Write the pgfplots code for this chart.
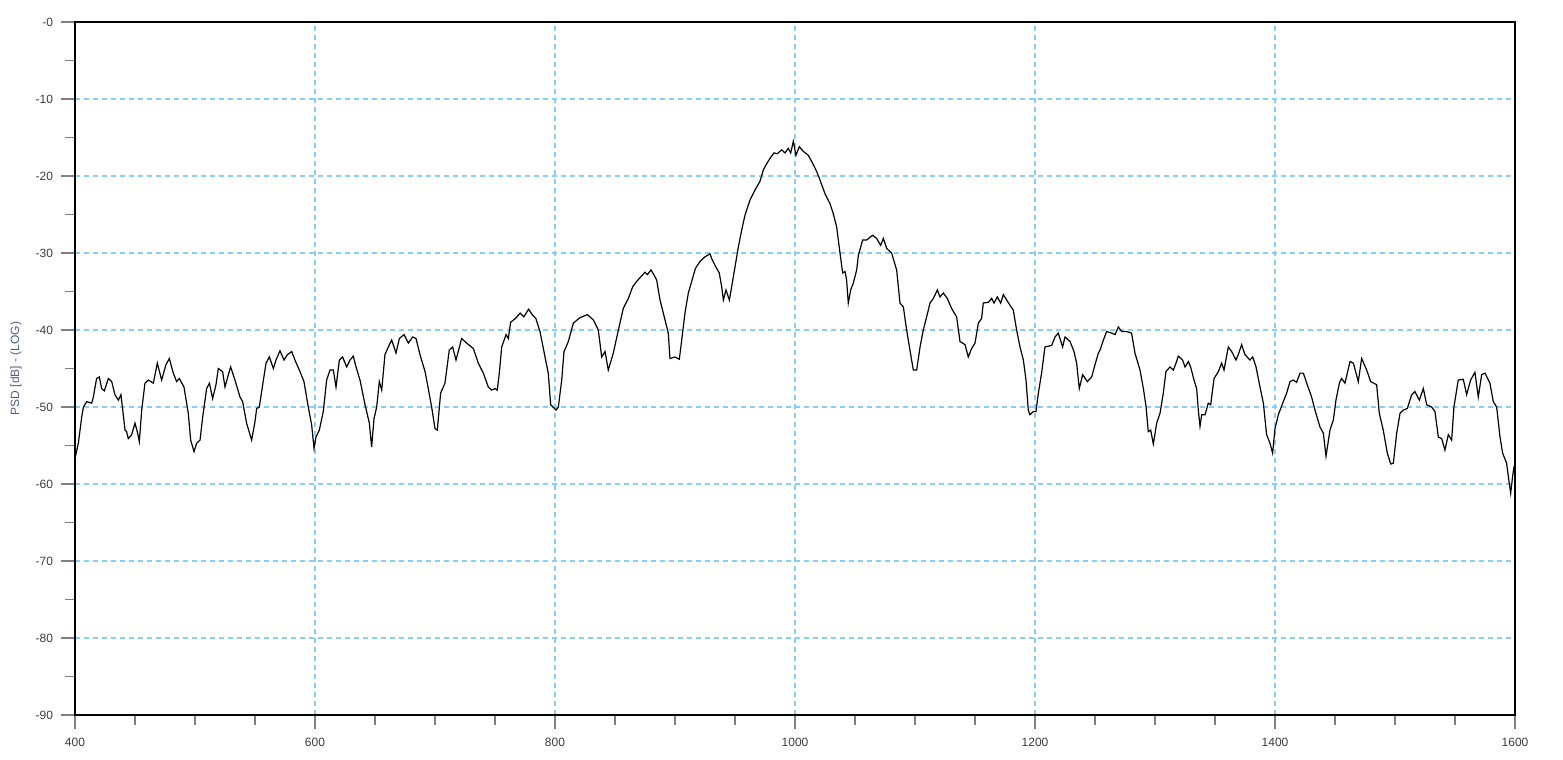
\documentclass[border=0pt]{standalone}
\usepackage{pgfplots}
\pgfplotsset{compat=1.18}
\usepackage{fontspec}
\setmainfont{Liberation Sans}
\definecolor{gridblue}{RGB}{135,206,250}
\definecolor{ticklab}{RGB}{60,60,60}
\definecolor{ylab}{RGB}{80,95,130}
\begin{document}
\begin{tikzpicture}
\begin{axis}[
  at={(0,0)}, anchor=south west,
  scale only axis, width=720bp, height=346.5bp,
  xmin=400, xmax=1600, ymin=-90, ymax=0,
  xtick={400,600,...,1600}, minor x tick num=3,
  ytick={-90,-80,...,0}, minor y tick num=1,
  yticklabels={-90,-80,-70,-60,-50,-40,-30,-20,-10,-0},
  tick pos=left, tick align=outside,
  major tick length=7bp, minor tick length=5bp,
  tick style={line width=0.8pt},
  axis line style={black, line width=0.8pt},
  xmajorgrids, ymajorgrids,
  major grid style={color=gridblue, dash pattern=on 2.5bp off 2bp, line width=0.6pt},
  tick label style={font=\fontsize{6bp}{7bp}\selectfont, text=ticklab},
  /pgf/number format/assume math mode=true,
  /pgf/number format/set thousands separator={},
  xticklabel style={yshift=-1bp},
  yticklabel style={xshift=-0.5bp},
  ylabel={PSD [dB] - (LOG)},
  every axis y label/.style={at={(axis description cs:-0.041,0.5)}, rotate=90, anchor=center, font=\fontsize{6bp}{7bp}\selectfont, text=ylab},
]
\addplot[black, line width=0.6pt] table {
x y
400 -56.7
402.8 -54.7
405.6 -51.3
407 -50
409.7 -49.3
413.9 -49.5
415.3 -48.7
418 -46.3
420.3 -46.1
422.2 -47.6
424.4 -47.9
427.8 -46.3
430.6 -46.7
433.3 -48.4
436.1 -49.1
438.3 -48.4
441.7 -53
443 -53.2
444.4 -54.1
447.2 -53.6
450 -52.1
451.9 -53.2
453.6 -54.5
455.6 -50.4
458.3 -46.9
461.1 -46.5
465.3 -46.9
468.6 -44.3
472.2 -46.5
475.8 -44.5
478.6 -43.7
481.9 -45.6
484.7 -46.7
486.9 -46.3
490.8 -47.4
494.4 -50.8
496.4 -54.3
499.2 -55.8
501.4 -54.7
504.2 -54.3
506.4 -51.3
509.7 -47.6
512 -46.9
514.7 -48.9
517.5 -47.1
519.4 -45
523 -45.4
525 -47.4
527.8 -45.8
529.7 -44.8
533.3 -46.5
537.5 -48.7
539.7 -49.3
543 -52.1
547.2 -54.3
550 -51.9
551.4 -50.2
553.6 -50
557 -46.5
559.2 -44.3
562 -43.5
565.3 -45
567.5 -43.9
570.8 -42.7
574.2 -43.9
577 -43.2
580.6 -42.8
583.3 -43.9
587.5 -45.4
590.8 -46.7
594.4 -50
597.2 -52.3
599.2 -55.4
600.8 -53.9
603.6 -53
606.9 -50.6
609.7 -46.5
612.5 -45.2
615.3 -45.2
617.5 -47.4
620.3 -43.9
623 -43.5
626.4 -44.8
629.2 -43.9
631.9 -43.4
634.2 -44.8
637.5 -46.5
641.7 -49.7
645.3 -52.1
647.2 -55.2
649.2 -51.5
651.4 -50
653.6 -46.7
655.6 -47.8
658.3 -43.2
661.1 -42.2
663.9 -41.3
667.5 -43
670.3 -41.1
674.2 -40.6
677.8 -41.7
681.4 -40.9
684.2 -41.1
687.5 -43.2
691.7 -45.4
694.4 -47.6
697.2 -50
700 -52.8
701.9 -53
704.7 -48.2
708.3 -46.9
711.9 -42.6
714.7 -42.2
717.5 -43.9
722.2 -41.1
726.4 -41.7
731.9 -42.4
736.1 -44.3
740.3 -45.6
744.4 -47.4
747.2 -47.8
750 -47.6
751.9 -47.8
753.6 -45.6
755.6 -42.2
759.2 -40.6
761.1 -41.1
763 -39
767 -38.5
771 -37.8
774 -38.3
778 -37.3
781 -38
784 -38.5
787.5 -40.2
791.7 -43.5
794.4 -45.6
796.4 -49.7
800.8 -50.4
802.8 -50
805.6 -46.5
807.5 -42.8
811.1 -41.5
815.3 -39.1
820.8 -38.4
827 -38
832 -38.7
836.1 -40
838.9 -43.5
841.7 -42.8
844.4 -45.2
848.6 -43
852.8 -40
856.9 -37.2
861.1 -35.9
864.7 -34.4
868 -33.7
872 -33
875 -32.5
877 -32.8
880 -32.2
883 -33
884.7 -33.5
887.5 -36.1
891.7 -38.7
894.4 -40.4
895.8 -43.7
900 -43.5
903.6 -43.8
905.6 -41.3
908.3 -37.8
911.1 -35.2
913.9 -33.7
917 -32
920.8 -31.1
925 -30.5
929.2 -30.1
930.5 -30.7
933.3 -31.6
936.9 -32.6
938.9 -34.4
940.3 -36.1
942.5 -34.8
945.3 -36.1
947.2 -34.4
950 -31.8
952.8 -29.2
955.6 -27
958.3 -25.1
962.5 -23.1
966.7 -21.8
970.8 -20.7
973.6 -19.2
976.4 -18.4
979.2 -17.7
982.5 -17
985.3 -17.1
988.9 -16.6
991.7 -17
994.4 -16.4
996.4 -17
998.6 -15.5
1000.8 -17.3
1003.6 -16.2
1006.9 -16.8
1011 -17.3
1013.9 -18.1
1018 -19.4
1020.8 -20.5
1025 -22.3
1029.2 -23.6
1031.9 -24.9
1034.7 -26.6
1037.5 -30
1039.7 -32.6
1041.7 -32.4
1043 -33.5
1044.4 -36.5
1046.4 -34.8
1048.6 -33.9
1051.4 -32.2
1052.8 -30.3
1056.4 -28.3
1059.7 -28.3
1064.7 -27.7
1068 -28.1
1071.4 -29
1073.6 -28.1
1076.4 -29.4
1080.5 -30.0
1084.7 -32.2
1087.5 -36.5
1090.3 -37
1093 -40
1095.8 -42.6
1098.6 -45.2
1101.4 -45.2
1104.2 -42.2
1106.9 -40
1109.7 -38.3
1112.5 -36.5
1115.3 -35.9
1118.6 -34.8
1120.8 -35.7
1123.6 -35.2
1126.9 -35.9
1130.5 -37.2
1134.7 -38.3
1137.5 -41.5
1141.7 -41.9
1144.4 -43.5
1147.2 -42.4
1150 -41.7
1152.8 -39.1
1155.5 -38.5
1156.9 -36.5
1161.1 -36.4
1163.9 -35.9
1165.8 -36.5
1168.6 -35.7
1171.4 -36.5
1173.6 -35.4
1176.4 -36.1
1179.2 -36.8
1181.9 -37.4
1184.7 -40
1187.5 -42.2
1190.3 -43.9
1192.5 -46.5
1194.4 -50.4
1195.8 -51
1198.6 -50.6
1200.8 -50.6
1202.8 -48.2
1205.5 -45.6
1208.3 -42.2
1211.1 -42.1
1213.9 -42
1216.7 -40.9
1219.4 -40.4
1223 -42.2
1225 -40.9
1229.2 -41.5
1232.5 -42.8
1234.7 -44.3
1236.9 -47.6
1239.7 -45.8
1243.6 -46.7
1247.2 -46.1
1250 -44.5
1252.8 -43
1254.2 -42.6
1257 -41.3
1259.7 -40.2
1263.9 -40.4
1266.7 -40.6
1269.4 -39.6
1272.2 -40.2
1276.4 -40.2
1280.5 -40.4
1283.3 -43
1287.5 -45.2
1290.3 -47.6
1292.5 -49.9
1294.4 -53.2
1296.4 -53
1298.6 -54.8
1301.4 -52.1
1304.2 -50.8
1306.9 -48.2
1309.1 -45.4
1312.5 -44.8
1315.3 -45.2
1317.5 -44.3
1319.4 -43.4
1323 -43.9
1325 -44.8
1327.8 -44.1
1329.7 -44.8
1332.5 -46.5
1334.7 -47.6
1336.1 -50.4
1337.5 -52.5
1338.9 -51
1341.7 -51
1344.4 -49.5
1346.4 -49.7
1349.2 -46.3
1352.8 -45.4
1355.5 -44.3
1357.5 -45.2
1361.1 -42.2
1363.9 -42.8
1367.5 -43.9
1369.4 -43.2
1372.2 -41.9
1375 -43.2
1379.1 -43.9
1381.4 -43.5
1384.2 -44.8
1387.5 -47.4
1390.3 -49.5
1393 -53.6
1395.8 -54.7
1398 -56
1400 -52.8
1402.8 -51
1406.4 -49.5
1409.7 -48.2
1412.5 -46.7
1415.3 -46.5
1418 -46.8
1420.8 -45.6
1423.6 -45.6
1426.4 -46.9
1430.5 -48.7
1433.3 -50.4
1437.5 -52.6
1440.3 -53.4
1442.5 -56.4
1445.8 -53
1448.6 -51.7
1450.8 -49.1
1453.6 -46.9
1455.5 -46.3
1458.3 -46.9
1462.5 -44.1
1465.3 -44.3
1469.4 -46.7
1472.2 -43.7
1476.4 -45.2
1479.7 -46.7
1484.7 -47.1
1486.9 -50.8
1490.2 -53
1493.6 -56
1496.4 -57.4
1498.6 -57.3
1501.4 -53.4
1504.2 -50.8
1506.9 -50.4
1510.2 -50.2
1513.9 -48.4
1516.6 -48
1520.3 -49.1
1523.6 -47.6
1526.4 -49.7
1530.5 -50
1533.3 -50.6
1536.1 -53.9
1538.9 -54.1
1541.6 -55.6
1544.4 -53.6
1547.2 -54.3
1549.1 -50
1552.7 -46.5
1556.9 -46.4
1559.7 -48.4
1563 -46.5
1566.6 -45.5
1569.4 -48.7
1572.2 -45.8
1575 -45.6
1579.1 -46.9
1581.9 -49.3
1584.7 -50
1587.5 -53.9
1589.7 -56
1593 -57.3
1595.2 -59.9
1596.4 -61.2
1598 -59
1599.2 -57.7
};
\end{axis}
\pgfresetboundingbox
\useasboundingbox (-37.5bp,-22.5bp) rectangle (744bp,357.5bp);
\end{tikzpicture}
\end{document}
